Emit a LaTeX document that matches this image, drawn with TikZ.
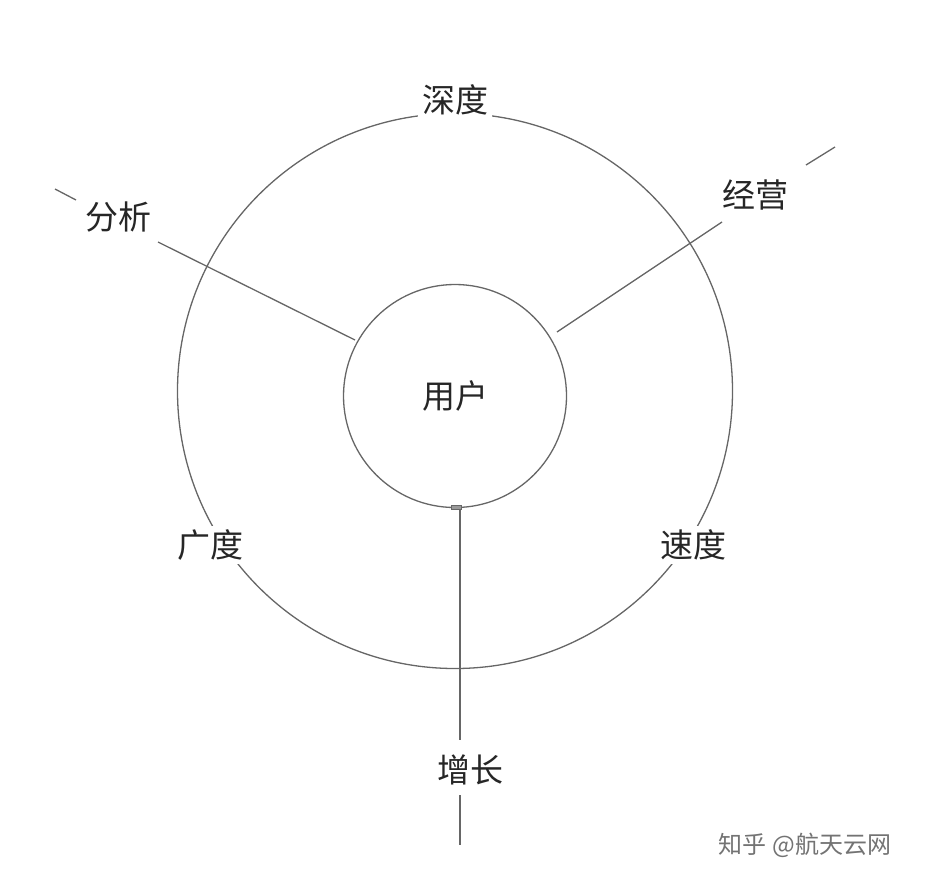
\documentclass[tikz,border=0pt]{standalone}
\usepackage{fontspec}
\newfontfamily\cjk{Noto Sans CJK SC}
\begin{document}
\begin{tikzpicture}[x=1pt,y=-1pt,
  ln/.style={draw=black!60,line width=1.3pt},
  lbl/.style={font=\cjk\fontsize{33}{33}\selectfont,fill=white,inner sep=4pt,text=black!85}]
\useasboundingbox (0,0) rectangle (928,884);
\node[circle,ln,minimum size=555pt] (outer) at (455,391) {};
\node[circle,ln,minimum size=223pt,font=\cjk\fontsize{33}{33}\selectfont,text=black!85] (inner) at (455,396) {用户};
\node[lbl] (sd) at (455,100) {深度};
\node[lbl] (gd) at (210,545) {广度};
\node[lbl] (vd) at (693,545) {速度};
\node[lbl,fill=none] (fx) at (118,217) {分析};
\node[lbl,fill=none] (jy) at (755,195) {经营};
\node[lbl,fill=none] (zz) at (470,770) {增长};
\coordinate (a1) at (355,340); \coordinate (a2) at (158,242);
\coordinate (b1) at (557,332); \coordinate (b2) at (722,222);
\coordinate (c1) at (460,510); \coordinate (c2) at (460,740);
\coordinate (d1) at (460,795); \coordinate (d2) at (460,845);
\coordinate (e1) at (55,189); \coordinate (e2) at (76,200);
\coordinate (f1) at (806,165); \coordinate (f2) at (835,147);
\draw[ln] (a1) -- (a2);
\draw[ln] (b1) -- (b2);
\draw[ln] (c1) -- (c2);
\draw[ln] (d1) -- (d2);
\draw[ln] (e1) -- (e2);
\draw[ln] (f1) -- (f2);
\node[draw=black!60,fill=black!40,minimum width=10pt,minimum height=4pt,inner sep=0pt] (mk) at (456,507) {};
\node[font=\cjk\fontsize{24}{24}\selectfont,text=black!55] (wm) at (805,845) {知乎 @航天云网};
\end{tikzpicture}
\end{document}
